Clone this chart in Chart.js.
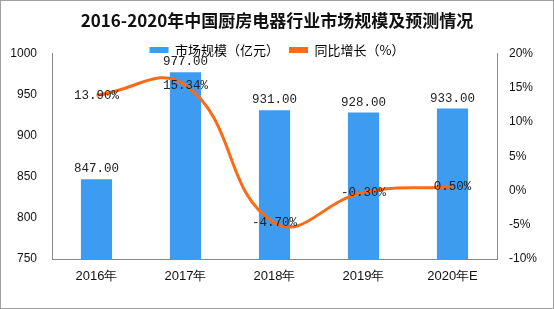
<!DOCTYPE html>
<html>
<head>
<meta charset="utf-8">
<script src="https://cdn.jsdelivr.net/npm/chart.js@4"></script>
<style>
  html, body { margin: 0; padding: 0; background: #fff; }
  #wrap { width: 554px; height: 309px; position: relative; box-sizing: border-box; border: 1px solid #a0a0a0; }
</style>
</head>
<body>
<div id="wrap"><canvas id="myChart"></canvas></div>
<script>
// chart data
var years = ["2016年", "2017年", "2018年", "2019年", "2020年E"];
var marketSize = [847, 977, 931, 928, 933];
var growth = [13.90, 15.34, -4.70, -0.30, 0.50];

var barColor = "#3d9cf0";
var lineColor = "#fb6b16";

// draws value labels above bars and on the line points
var valueLabels = {
  id: "valueLabels",
  afterInit: function(chart) {
    // squeeze the legend box so the plot starts right under it
    var lg = chart.legend;
    var fit = lg.fit;
    var draw = lg.draw;
    lg.fit = function() {
      fit.call(this);
      this.height = 20;
    };
    // legend clips to its box, give it some room while drawing
    lg.draw = function() {
      var b = this.bottom, h = this.height;
      this.bottom = b + 12;
      this.height = h + 12;
      draw.apply(this, arguments);
      this.bottom = b;
      this.height = h;
    };
  },
  afterDatasetsDraw: function(chart) {
    var ctx = chart.ctx;
    ctx.save();
    ctx.font = "12.5px 'Liberation Mono', monospace";
    ctx.fillStyle = "#222";
    ctx.textAlign = "center";
    chart.getDatasetMeta(0).data.forEach(function(bar, i) {
      ctx.textBaseline = "bottom";
      ctx.fillText(marketSize[i].toFixed(2), bar.x, bar.y - 4);
    });
    chart.getDatasetMeta(1).data.forEach(function(pt, i) {
      ctx.textBaseline = "middle";
      ctx.fillText(growth[i].toFixed(2) + "%", pt.x, pt.y);
    });
    ctx.restore();
  }
};

var tickFont = { size: 12, family: "'Liberation Sans', sans-serif" };

var ctx = document.getElementById("myChart");
var chart = new Chart(ctx, {
  type: "bar",
  data: {
    labels: years,
    datasets: [
      {
        type: "bar",
        label: "市场规模（亿元）",
        data: marketSize,
        backgroundColor: barColor,
        yAxisID: "y",
        barPercentage: 0.7,
        categoryPercentage: 0.5,
        order: 2
      },
      {
        type: "line",
        label: "同比增长（%）",
        data: growth,
        borderColor: lineColor,
        backgroundColor: lineColor,
        borderWidth: 3,
        tension: 0.45,
        pointRadius: 0,
        yAxisID: "y1",
        order: 1
      }
    ]
  },
  options: {
    responsive: true,
    maintainAspectRatio: false,
    animation: false,
    layout: { padding: 0 },
    plugins: {
      title: {
        display: true,
        text: "2016-2020年中国厨房电器行业市场规模及预测情况",
        color: "#111",
        font: { size: 17, weight: "bold", family: "'Noto Sans CJK SC', sans-serif" },
        padding: { top: 9, bottom: 3 }
      },
      legend: {
        labels: {
          color: "#111",
          font: { size: 13, family: "'Noto Sans CJK SC', sans-serif" },
          boxWidth: 19,
          boxHeight: 6,
          padding: 10,
          generateLabels: function(chart) {
            return [
              { text: "市场规模（亿元）", fillStyle: barColor, strokeStyle: barColor, lineWidth: 0, datasetIndex: 0 },
              { text: "同比增长（%）", fillStyle: lineColor, strokeStyle: lineColor, lineWidth: 0, datasetIndex: 1 }
            ];
          }
        }
      },
      tooltip: { enabled: false }
    },
    scales: {
      x: {
        grid: { display: false, drawTicks: true, tickLength: 4 },
        border: { color: "#888" },
        ticks: { color: "#111", font: { size: 13, family: "'Liberation Sans', sans-serif" }, padding: 6 },
        afterFit: function(scale) { scale.height = 49; }
      },
      y: {
        position: "left",
        min: 750,
        max: 1000,
        grid: { display: false, drawTicks: true, tickLength: 5 },
        border: { color: "#888" },
        ticks: {
          stepSize: 50,
          color: "#111",
          font: tickFont,
          padding: 10,
          callback: function(v) { return String(v); }
        },
        afterFit: function(scale) { scale.width = 51; }
      },
      y1: {
        position: "right",
        min: -10,
        max: 20,
        grid: { display: false, drawTicks: true, tickLength: 5 },
        border: { color: "#888" },
        ticks: {
          stepSize: 5,
          color: "#111",
          font: tickFont,
          padding: 7,
          callback: function(v) { return v + "%"; }
        },
        afterFit: function(scale) { scale.width = 56; }
      }
    }
  },
  plugins: [valueLabels]
});
</script>
</body>
</html>
